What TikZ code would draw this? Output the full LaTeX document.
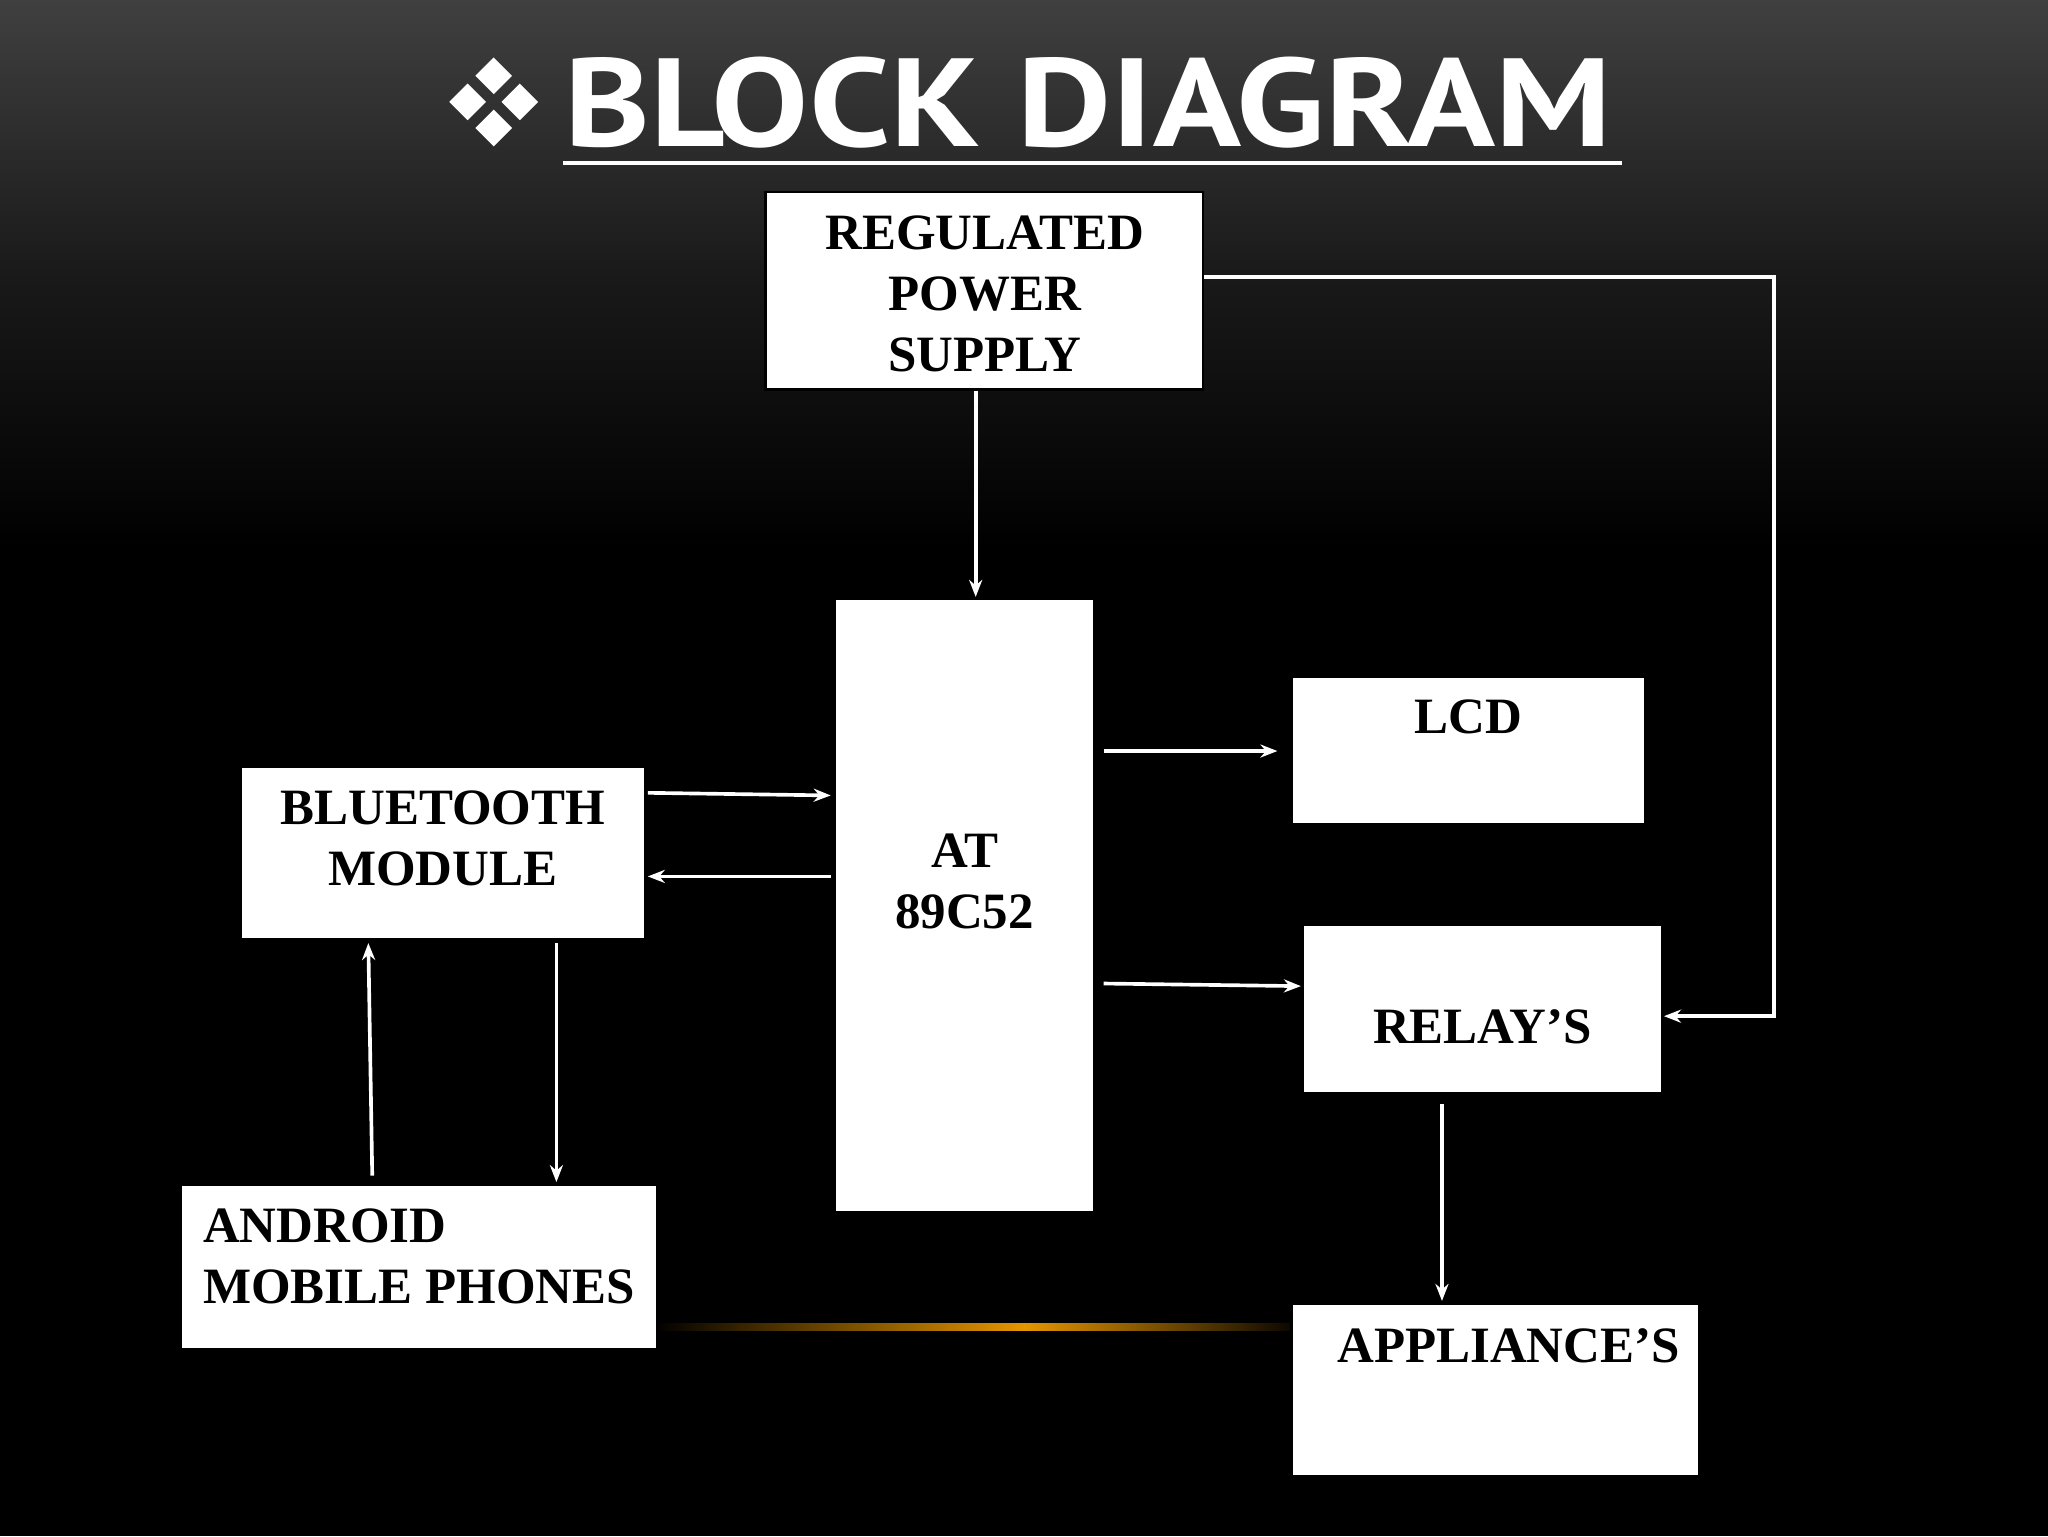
\documentclass[tikz,border=0pt]{standalone}
\usepackage{fontspec}
\setmainfont{Liberation Serif}
\newfontfamily\titlefont{PT Sans}
\usetikzlibrary{arrows.meta}
\begin{document}
\begin{tikzpicture}[x=1pt,y=-1pt,
  box/.style={draw=black,line width=2pt,fill=white,inner sep=0pt},
  lbl/.style={font=\fontsize{39}{47}\selectfont\bfseries,text=black,align=center},
  arr/.style={draw=white,line width=2.8pt,-{Stealth[length=13pt,width=10pt]}}]
\shade[top color=black!75!white,bottom color=black,middle color=black!90!white,shading angle=0] (0,0) rectangle (1568,420);
\fill[black] (0,420) rectangle (1568,1176);
\useasboundingbox (0,0) rectangle (1568,1176);
% glow
\shade[left color=black,right color=orange!70!yellow,opacity=0.9] (500,1013) rectangle (784,1019);
\shade[right color=black,left color=orange!70!yellow,opacity=0.9] (784,1013) rectangle (1000,1019);
% title
\foreach \dx/\dy in {0/-20,-20/0,20/0,0/20}
  \fill[white] (364+\dx,78+\dy) -- ++(14,-14) -- ++(14,14) -- ++(-14,14) -- cycle;
\node[anchor=base west,text=white,inner sep=0pt,xscale=1.16,font=\titlefont\bfseries\fontsize{96}{100}\selectfont] (title) at (432,112) {BLOCK DIAGRAM};
\draw[white,line width=3pt] (431,125) -- (1242,125);
% boxes
\node[box,minimum width=335pt,minimum height=151pt] (rps) at (753.5,222.5) {};
\node[lbl] at (754,225) {REGULATED\\POWER\\SUPPLY};
\node[box,minimum width=199pt,minimum height=470pt] (mcu) at (738.5,693) {};
\node[lbl] at (738.5,675) {AT\\89C52};
\node[box,minimum width=271pt,minimum height=113pt] (lcd) at (1124.5,574.5) {};
\node[lbl] at (1124,549) {LCD};
\node[box,minimum width=276pt,minimum height=129pt] (rel) at (1135,772.5) {};
\node[lbl] at (1135,786) {RELAY’S};
\node[box,minimum width=310pt,minimum height=132pt] (bt) at (339,653) {};
\node[lbl] at (339,642) {BLUETOOTH\\MODULE};
\node[box,minimum width=365pt,minimum height=126pt] (and) at (320.5,970) {};
\node[lbl,align=left,anchor=west] at (152,962) {ANDROID\\MOBILE PHONES};
\node[box,minimum width=312pt,minimum height=132pt] (app) at (1145,1064) {};
\node[lbl] at (1155,1030) {APPLIANCE’S};
% arrows
\draw[arr] (rps.south -| 747,0) -- (mcu.north -| 747,0);
\draw[arr] (rps.east |- 0,212) -- (1358,212) -- (1358,778) -- (rel.east |- 0,778);
\draw[arr] (845,575) -- (978,575);
\draw[arr] (845,753) -- (996,755);
\draw[arr] (496,607) -- (636,609);
\draw[arr] (636,671) -- (496,671);
\draw[arr] (285,900) -- (282,722);
\draw[arr] (426,722) -- (426,905);
\draw[arr] (1104,845) -- (1104,996);
\end{tikzpicture}
\end{document}
